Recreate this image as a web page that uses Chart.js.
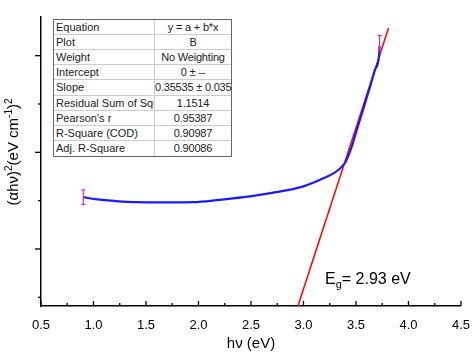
<!DOCTYPE html>
<html><head><meta charset="utf-8">
<script src="https://cdn.jsdelivr.net/npm/chart.js@4"></script>
<style>
html,body{margin:0;padding:0;background:#fff;}
#wrap{position:relative;width:474px;height:361px;overflow:hidden;}
#c{position:absolute;left:0;top:0;}
#fit{position:absolute;left:53px;top:19px;width:179px;height:138px;box-sizing:border-box;border:1px solid #666;background:#fff;
 display:grid;grid-template-columns:101px 76px;grid-template-rows:repeat(9,1fr);
 font-family:"Liberation Sans",Arial,sans-serif;font-size:11px;color:#222;}
#fit div{box-sizing:border-box;border-right:1px solid #ccc;border-bottom:1px solid #ccc;white-space:nowrap;overflow:hidden;line-height:14px;padding:0 2px;}
#fit div.v{text-align:center;border-right:none;padding:0;overflow:visible;letter-spacing:-0.2px;}
#fit div.last{border-bottom:none;}
#eg{position:absolute;left:325px;top:270px;font-family:"Liberation Sans",Arial,sans-serif;font-size:16px;line-height:18px;color:#000;white-space:nowrap;}
#eg sub{font-size:11px;vertical-align:-4px;line-height:0;}
</style></head>
<body><div id="wrap"><canvas id="c" width="474" height="361"></canvas>
<div id="fit"></div>
<div id="eg">E<sub>g</sub>= 2.93 eV</div></div>
<script>
// ---- data ----
const hv      = [0.903, 1.0,   1.2,   1.4,   1.7,   1.95,  2.2,   2.43,  2.7,   3.0,   3.2,   3.3,   3.35,  3.40,  3.46,  3.51,  3.57,  3.64,  3.68,  3.72,  3.725];
const absorb  = [1.536, 1.518, 1.497, 1.484, 1.482, 1.484, 1.508, 1.536, 1.580, 1.648, 1.736, 1.793, 1.835, 1.900, 2.060, 2.240, 2.450, 2.700, 2.850, 3.000, 3.100];
const fitX    = [2.947, 3.81];
const fitY    = [0.409, 3.287];
const errX    = [0.903, 3.725];
const errY    = [1.536, 3.130];
const errSize = [0.075, 0.08];
const xTicks      = [0.5, 1.0, 1.5, 2.0, 2.5, 3.0, 3.5, 4.0, 4.5];
const xTickLabels = ['0.5','1.0','1.5','2.0','2.5','3.0','3.5','4.0','4.5'];
const xMinorTicks = [0.75, 1.25, 1.75, 2.25, 2.75, 3.25, 3.75, 4.25];
const yTicks      = [1, 2, 3];
const yMinorTicks = [0.5, 1.5, 2.5];
const tableKeys   = ['Equation','Plot','Weight','Intercept','Slope','Residual Sum of Squares',"Pearson's r",'R-Square (COD)','Adj. R-Square'];
const tableValues = ['y = a + b*x','B','No Weighting','0 \u00b1 --','0.35535 \u00b1 0.035','1.1514','0.95387','0.90987','0.90086'];

// table
const fit = document.getElementById('fit');
tableKeys.forEach((k,i)=>{
  const a=document.createElement('div'); a.textContent=k;
  const b=document.createElement('div'); b.textContent=tableValues[i]; b.className='v';
  if(i===tableKeys.length-1){a.className='last'; b.className='v last';}
  fit.appendChild(a); fit.appendChild(b);
});

const FONT = '"Liberation Sans", Arial, sans-serif';

const datasets = [
  {data: hv.map((x,i)=>({x, y:absorb[i]})), borderColor:'#1a1aff', borderWidth:2.2, pointRadius:0, cubicInterpolationMode:'monotone', order:1},
  {data: fitX.map((x,i)=>({x, y:fitY[i]})), borderColor:'#ff0000', borderWidth:1.5, pointRadius:0, order:2}
];
errX.forEach((x,i)=>{
  datasets.push({data:[{x, y:errY[i]-errSize[i]},{x, y:errY[i]+errSize[i]}], borderColor:'#e020e0', borderWidth:1.2,
    pointStyle:'line', pointRadius:2, pointBorderColor:'#e020e0', pointBorderWidth:1.2, order:0});
});

const tickPlugin = {
  id:'ticks',
  afterDraw(chart){
    const ctx=chart.ctx, xs=chart.scales.x, ys=chart.scales.y, a=chart.chartArea;
    ctx.save(); ctx.strokeStyle='#000'; ctx.lineWidth=1.3;
    const ln=(x1,y1,x2,y2)=>{ctx.beginPath();ctx.moveTo(x1,y1);ctx.lineTo(x2,y2);ctx.stroke();};
    xTicks.forEach(v=>{const p=xs.getPixelForValue(v); ln(p,a.bottom,p,a.bottom-5);});
    xMinorTicks.forEach(v=>{const p=xs.getPixelForValue(v); ln(p,a.bottom,p,a.bottom-3);});
    yTicks.forEach(v=>{const p=ys.getPixelForValue(v); ln(a.left,p,a.left-6,p);});
    yMinorTicks.forEach(v=>{const p=ys.getPixelForValue(v); ln(a.left,p,a.left-3,p);});
    // y title
    const parts=[['(\u03b1h\u03bd)',0],['2',1],['(eV cm',0],['-1',1],[')',0],['2',1]];
    const big='15px '+FONT, small='10px '+FONT;
    let w=0; parts.forEach(p=>{ctx.font=p[1]?small:big; w+=ctx.measureText(p[0]).width;});
    ctx.translate(18,152); ctx.rotate(-Math.PI/2); ctx.fillStyle='#000'; ctx.textBaseline='alphabetic';
    let cx=-w/2;
    parts.forEach(p=>{ctx.font=p[1]?small:big; ctx.fillText(p[0],cx,p[1]?-6:0); cx+=ctx.measureText(p[0]).width;});
    ctx.restore();
  }
};

new Chart(document.getElementById('c'), {
  type:'line',
  data:{datasets},
  options:{
    responsive:false, animation:false, devicePixelRatio:1,
    layout:{padding:{top:17,right:13,left:0,bottom:0}},
    plugins:{legend:{display:false}, tooltip:{enabled:false}},
    scales:{
      x:{type:'linear', min:0.5, max:4.5,
        afterBuildTicks:s=>{s.ticks=xTicks.map(v=>({value:v}));},
        afterFit:s=>{s.height=55;},
        grid:{display:false}, border:{display:true,color:'#000',width:1.5},
        ticks:{color:'#000', font:{family:FONT,size:13}, padding:4, maxRotation:0,
          callback:(v,i)=>xTickLabels[i]},
        title:{display:true, text:'h\u03bd (eV)', color:'#000', font:{family:FONT,size:15}, padding:{top:0,bottom:8}}
      },
      y:{type:'linear', min:0.41, max:3.40,
        afterFit:s=>{s.width=41;},
        grid:{display:false}, border:{display:true,color:'#000',width:1.5},
        ticks:{display:false}
      }
    }
  },
  plugins:[tickPlugin]
});
</script></body></html>
